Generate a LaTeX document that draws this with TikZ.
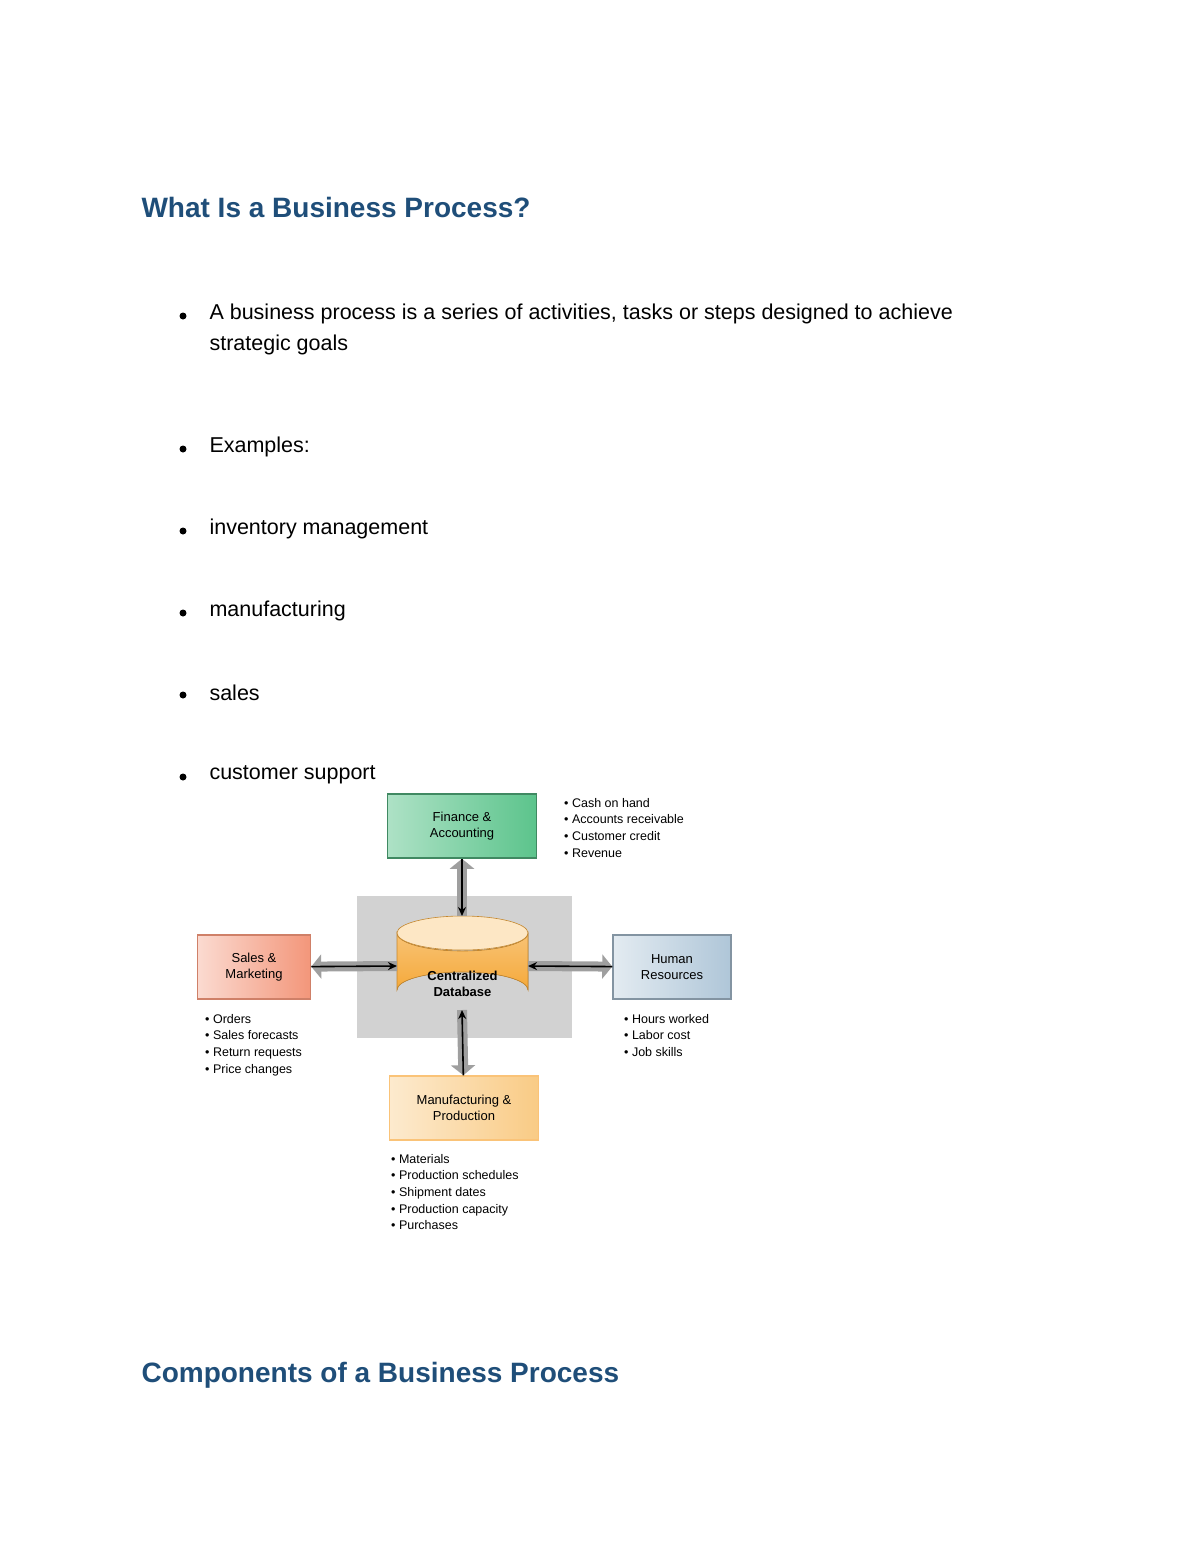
\documentclass[tikz,border=0pt]{standalone}
\usepackage{fontspec}
\setmainfont{Liberation Sans}
\usetikzlibrary{arrows.meta}
\definecolor{ttl}{HTML}{1F4E79}
\definecolor{fin}{HTML}{5CC48C}
\definecolor{sal}{HTML}{F3967A}
\definecolor{hr}{HTML}{AFC6D8}
\definecolor{man}{HTML}{F9CB85}
\definecolor{dbo}{HTML}{F5A93A}
\tikzset{
 title/.style={anchor=west,text=ttl,font=\fontsize{28}{32}\selectfont\bfseries},
 body/.style={anchor=west,font=\fontsize{21.5}{31}\selectfont,align=left},
 dot/.style={circle,fill=black,inner sep=0pt,minimum size=7pt},
 dept/.style={draw=#1!80!black,line width=1.5pt,minimum width=#1w,minimum height=64pt,font=\fontsize{13}{16}\selectfont,align=center,inner sep=0pt},
 lst/.style={anchor=north west,font=\fontsize{12.5}{16.6}\selectfont,align=left,inner sep=0pt},
 garrow/.style={line width=10pt,draw=gray!75,-{Triangle[width=24pt,length=10pt]}},
 barrow/.style={line width=1.6pt,draw=black,-{Stealth[length=9pt,width=8pt]}}
}
\begin{document}
\begin{tikzpicture}[x=1pt,y=-1pt]
\useasboundingbox (0,0) rectangle (1200,1553);
\node[title] (t1) at (138,207) {What Is a Business Process?};
\node[title] (t2) at (138,1375) {Components of a Business Process};
\foreach \y/\t [count=\i] in {314/{A business process is a series of activities, tasks or steps designed to achieve},447/{Examples:},529/{inventory management},611/{manufacturing},693/{sales},775/{customer support}}{
 \node[dot] (d\i) at (183,\y+2) {};
 \node[body] (b\i) at (206,\y) {\t};
}
\node[body] (b1b) at (206,345) {strategic goals};
% gray square
\fill[gray!35] (357,896) rectangle (572,1038);
% boxes
\node[draw=fin!70!black,line width=1.5pt,minimum width=149pt,minimum height=64pt,inner sep=0pt,
 left color=fin!50!white,right color=fin,font=\fontsize{13}{16}\selectfont,align=center] (fa) at (462,826) {Finance \&\\Accounting};
\node[draw=sal!85!black,line width=1.5pt,minimum width=113pt,minimum height=64pt,inner sep=0pt,
 left color=sal!35!white,right color=sal,font=\fontsize{13}{16}\selectfont,align=center] (sm) at (254,967) {Sales \&\\Marketing};
\node[draw=hr!75!black,line width=1.5pt,minimum width=118pt,minimum height=64pt,inner sep=0pt,
 left color=hr!35!white,right color=hr,font=\fontsize{13}{16}\selectfont,align=center] (hr) at (672,967) {Human\\Resources};
\node[draw=man!90!orange,line width=1.5pt,minimum width=149pt,minimum height=64pt,inner sep=0pt,
 left color=man!40!white,right color=man,font=\fontsize{13}{16}\selectfont,align=center] (mp) at (464,1108) {Manufacturing \&\\Production};
% cylinder
\fill[top color=dbo!70,bottom color=dbo,draw=dbo!80!black,line width=0.6pt] (397,933) -- (397,990) arc[start angle=180,end angle=360,x radius=65.5,y radius=18] -- (528,933) arc[start angle=0,end angle=180,x radius=65.5,y radius=18] -- cycle;
\fill[fill=yellow!15!orange!20,draw=dbo!80!black,line width=0.6pt] (462.5,933) ellipse[x radius=65.5,y radius=17];
\node[font=\fontsize{13}{16}\selectfont\bfseries,align=center] (db) at (462.5,984) {Centralized\\Database};
\coordinate (dbT) at (462,916);
\coordinate (dbB) at (462,1010);
\coordinate (dbL) at (397,966);
\coordinate (dbR) at (528,966);
% arrows
\draw[garrow] (dbT) -- (fa);
\draw[garrow] (dbB) -- (mp);
\draw[garrow] (dbL) -- (sm);
\draw[garrow] (dbR) -- (hr);
\draw[barrow] (fa) -- (dbT);
\draw[barrow] (mp) -- (dbB);
\draw[barrow] (sm) -- (dbL);
\draw[barrow] (hr) -- (dbR);
% lists
\node[lst] (lf) at (564,798) {• Cash on hand\\• Accounts receivable\\• Customer credit\\• Revenue};
\node[lst] (ls) at (205,1014) {• Orders\\• Sales forecasts\\• Return requests\\• Price changes};
\node[lst] (lh) at (624,1014) {• Hours worked\\• Labor cost\\• Job skills};
\node[lst] (lm) at (391,1154) {• Materials\\• Production schedules\\• Shipment dates\\• Production capacity\\• Purchases};
\end{tikzpicture}
\end{document}
